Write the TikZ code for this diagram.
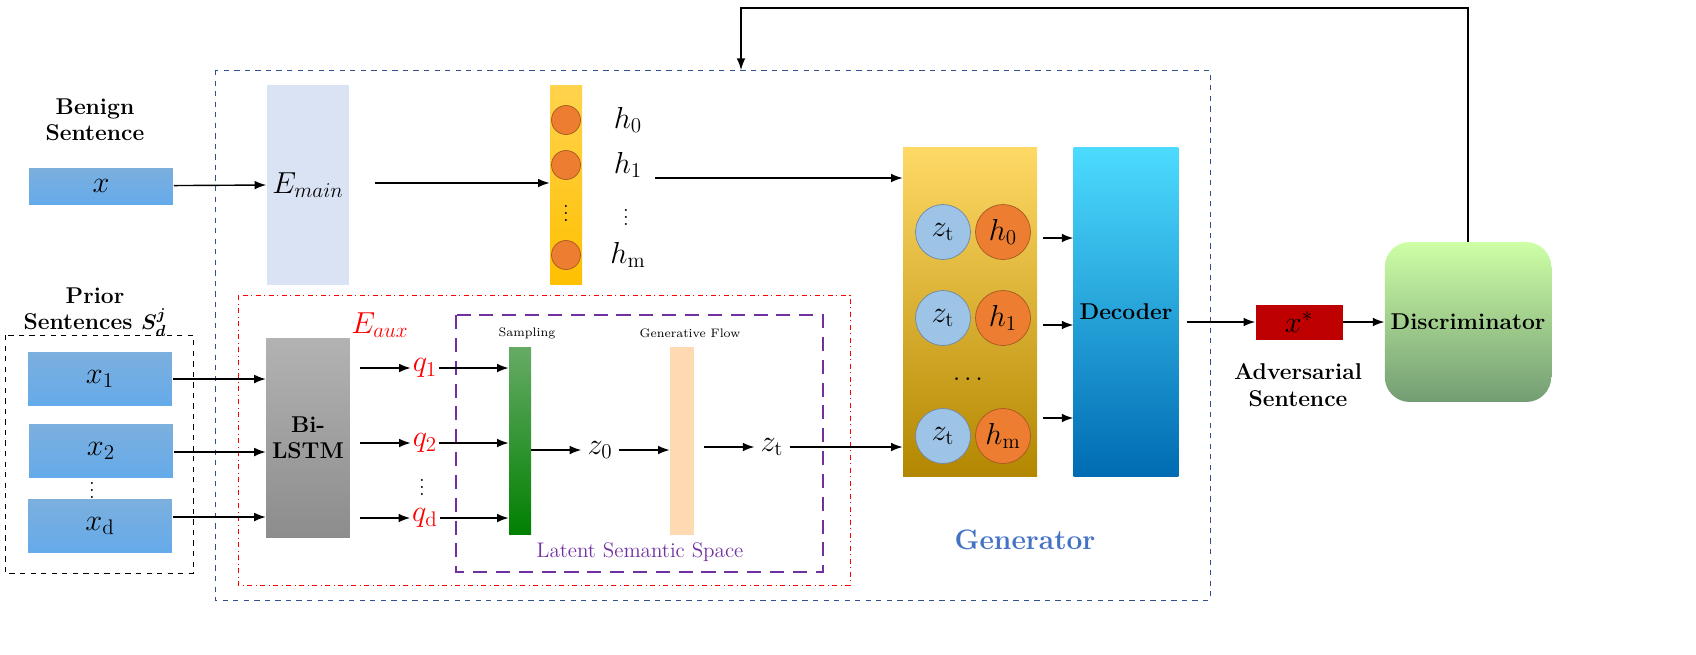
\documentclass[tikz,border=0pt]{standalone}
\usepackage{amsmath}
\usepackage{bm}
\usepackage{xcolor}
\usetikzlibrary{arrows.meta, positioning, shapes.geometric}
\definecolor{sentblue}{HTML}{5B9BD5}
\definecolor{mainblue}{HTML}{DAE3F3}
\definecolor{hyellow}{HTML}{FFC000}
\definecolor{horange}{HTML}{ED7D31}
\definecolor{zblue}{HTML}{9DC3E6}
\definecolor{genblue}{HTML}{4472C4}
\definecolor{latpurple}{HTML}{7030A0}
\tikzset{
  arr/.style={thick, -Latex},
  sent/.style={draw=white, top color=sentblue!80, bottom color=sentblue!110!black, minimum width=2.9cm, minimum height=1.1cm, font=\LARGE},
  hcirc/.style={circle, draw=horange!70!black, fill=horange, minimum size=1.1cm, inner sep=0pt, font=\LARGE},
  zcirc/.style={circle, draw=zblue!70!black, fill=zblue, minimum size=1.1cm, inner sep=0pt, font=\LARGE},
  lbl/.style={font=\fontsize{13}{15}\selectfont\bfseries, align=center},
  dots/.style={inner sep=0pt, font=\large},
}
\begin{document}
\begin{tikzpicture}[x=0.02cm, y=-0.02cm]
  \useasboundingbox (0,0) rectangle (1696,654);
  % outer boxes
  \draw[genblue!70!black, dashed] (215,70) rectangle (1210,600);
  \draw[black, dashed] (5,335) rectangle (193,573);
  \draw[red, dash dot] (238,295) rectangle (850,585);
  \draw[latpurple, very thick, dash pattern=on 8pt off 5pt] (456,315) rectangle (823,572);
  % main encoder
  \node[lbl] (benign) at (95,120) {Benign\\Sentence};
  \node[sent, minimum height=0.76cm] (x) at (101,186) {$x$};
  \node[fill=mainblue, minimum width=1.6cm, minimum height=4cm] (emain) at (308,185) {\LARGE $E_{main}$};
  \node[top color=hyellow!70, bottom color=hyellow, minimum width=0.64cm, minimum height=4cm] (hcol) at (566,185) {};
  \foreach \i/\y/\t in {0/120/0, 1/165/1, m/255/\mathrm{m}} {
    \node[hcirc, minimum size=0.58cm] (hs\i) at (566,\y) {};
    \node[font=\LARGE, inner sep=1pt] (hl\i) at (628,\y) {$h_{\t}$};
  }
  \node[dots] (hdots) at (566,208) {$\vdots$};
  \node[dots] (hldots) at (626,212) {$\vdots$};
  \draw[arr] (x) -- (emain.west);
  \coordinate (emainout) at (375,183);
  \draw[arr] (emainout) -- (hcol.west |- emainout);
  \coordinate (hout) at (655,178);
  % prior sentences
  \node[lbl] (prior) at (95,312) {Prior\\Sentences $\bm{S_d^j}$};
  \node[sent] (x1) at (100,379) {$x_1$};
  \node[sent] (x2) at (101,451) {$x_2$};
  \node[dots] (xdots) at (92,485) {$\vdots$};
  \node[sent] (xd) at (100,526) {$x_{\mathrm{d}}$};
  \node[font=\LARGE, text=red] (eaux) at (380,325) {$E_{aux}$};
  \node[top color=gray!60, bottom color=gray!90, minimum width=1.6cm, minimum height=4cm, lbl] (lstm) at (308,438) {Bi-\\LSTM};
  \node[font=\scriptsize] (samp) at (527,333) {Sampling};
  \node[minimum width=0.44cm, minimum height=3.76cm, top color=green!45!black!60, bottom color=green!50!black] (green) at (520,441) {};
  \node[font=\scriptsize] (gflow) at (690,333) {Generative Flow};
  \node[fill=orange!30, minimum width=0.48cm, minimum height=3.76cm] (peach) at (682,441) {};
  \node[text=latpurple, font=\large] (latent) at (640,552) {Latent Semantic Space};
  \foreach \i/\y in {1/379, 2/452, d/517} {
    \draw[arr] (x\i.east |- 0,\y) -- (lstm.west |- 0,\y);
  }
  \foreach \i/\y/\t in {1/368/1, 2/443/2, d/518/\mathrm{d}} {
    \node[text=red, font=\LARGE, inner sep=1pt] (q\i) at (425,\y) {$q_{\t}$};
    \draw[arr] (lstm.east |- 0,\y) ++(10,0) -- (q\i.west);
    \draw[arr] (q\i.east) -- (green.west |- q\i);
  }
  \node[dots] (qdots) at (422,482) {$\vdots$};
  \node[font=\LARGE] (z0) at (600,450) {$z_0$};
  \node[font=\LARGE] (zt) at (772,447) {$z_{\mathrm{t}}$};
  \draw[arr] (green.east |- z0) -- (z0.west);
  \draw[arr] (z0.east) -- (peach.west |- z0);
  \draw[arr] (peach.east |- zt) ++(10,0) -- (zt.west);
  % generator
  \node[top color=hyellow!60, bottom color=hyellow!70!black, minimum width=2.68cm, minimum height=6.58cm] (gen) at (970,312) {};
  \foreach \k/\y/\t in {a/232/0, b/318/1, c/436/\mathrm{m}} {
    \node[zcirc] (z\k) at (943,\y) {$z_{\mathrm{t}}$};
    \node[hcirc] (h\k) at (1003,\y) {$h_{\t}$};
  }
  \node[dots, font=\Large] (gdots) at (970,380) {$\cdots$};
  \draw[arr] (hout) -- (gen.west |- hout);
  \draw[arr] (zt.east) -- (gen.west |- zt);
  \node[top color=cyan!80!blue!70, bottom color=cyan!60!blue!70!black, minimum width=1.84cm, minimum height=6.6cm, lbl] (dec) at (1126,312) {Decoder};
  \foreach \y in {238,325,418} {
    \draw[arr] (gen.east |- 0,\y) ++(6,0) -- ++(30,0);
  }
  \node[fill=red!75!black, minimum width=1.74cm, minimum height=0.7cm, font=\LARGE] (xstar) at (1299,322) {$x^{*}$};
  \node[lbl] (adv) at (1298,385) {Adversarial\\Sentence};
  \node[rounded corners=0.5cm, top color=green!40!lime!35, bottom color=green!30!black!55, minimum width=2.9cm, minimum height=3.2cm, lbl] (disc) at (1468,322) {Discriminator};
  \draw[arr] (dec.east |- xstar) ++(8,0) -- (xstar.west);
  \draw[arr] (xstar.east) -- (disc.west);
  \node[text=genblue, font=\fontsize{16}{18}\selectfont\bfseries] (genlbl) at (1025,540) {Generator};
  % feedback loop
  \coordinate (top) at (741,70);
  \draw[arr] (disc.north) -- (disc.north |- 0,8) -| (top);
\end{tikzpicture}
\end{document}
